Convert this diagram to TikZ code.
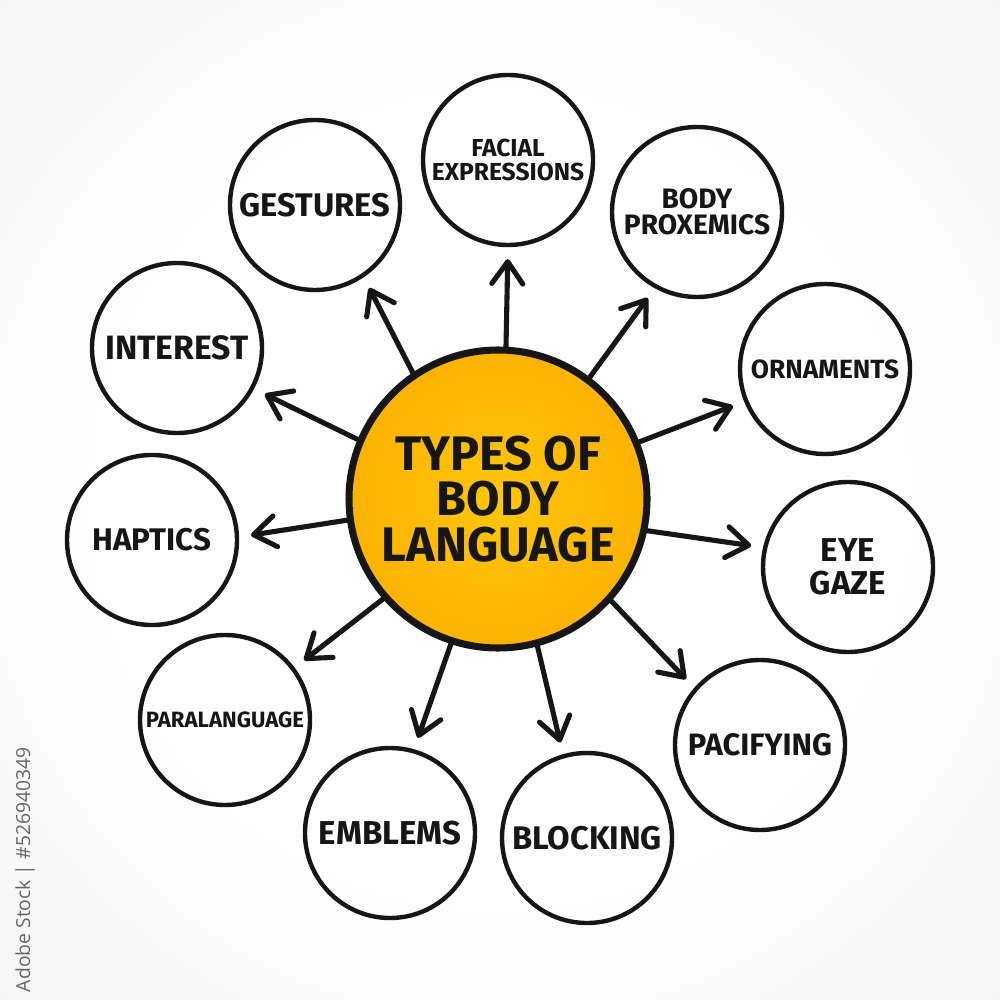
\documentclass[tikz,border=0pt]{standalone}
\usepackage{fontspec}
\setmainfont{Fira Sans}
\newfontfamily\idfont{Open Sans}
\usetikzlibrary{arrows.meta}
\definecolor{ink}{HTML}{161616}
\definecolor{coreIn}{HTML}{FFC60A}
\definecolor{coreMid}{HTML}{FCB000}
\definecolor{coreOut}{HTML}{F39300}
\pgfdeclareradialshading{bgshade}{\pgfpoint{0bp}{0bp}}{color(0bp)=(white); color(18bp)=(white); color(50bp)=(black!7); color(71bp)=(black!12)}
\pgfdeclareradialshading{coreshade}{\pgfpoint{0bp}{0bp}}{color(0bp)=(coreIn); color(28bp)=(coreMid); color(50bp)=(coreOut)}

\begin{document}
\begin{tikzpicture}[
    bubble/.style={circle, draw=ink, line width=1.25pt, minimum size=1.70cm, inner sep=0pt,
      align=center, text=ink, font=\bfseries\fontsize{9.3}{11}\selectfont},
    smalltext/.style={font=\bfseries\fontsize{7}{6.9}\selectfont},
    link/.style={draw=ink, line width=1.45pt, line cap=round, line join=round,
      -{Straight Barb[length=2.2mm,width=3.1mm,round]}, shorten >=0.12cm}
  ]
    \useasboundingbox (0,0) rectangle (10,-10);
    \shade[shading=bgshade] (0,0) rectangle (10,-10);

    \node[circle, draw=ink, line width=2pt, shading=coreshade, minimum size=2.98cm, inner sep=0pt,
      align=center, text=ink, font=\bfseries\fontsize{13.8}{12.9}\selectfont]
      (core) at (4.98,-4.99) {TYPES OF\\BODY\\LANGUAGE};

    \node[bubble] (gest) at (3.15,-2.05) {GESTURES};
    \node[bubble, smalltext] (face) at (5.08,-1.60) {FACIAL\\EXPRESSIONS};
    \node[bubble, font=\bfseries\fontsize{8}{7.4}\selectfont] (prox) at (6.97,-2.12) {BODY\\PROXEMICS};
    \node[bubble, font=\bfseries\fontsize{7.5}{9}\selectfont] (orn) at (8.25,-3.69) {ORNAMENTS};
    \node[bubble, font=\bfseries\fontsize{9.4}{9.4}\selectfont] (gaze) at (8.48,-5.67) {EYE\\GAZE};
    \node[bubble, font=\bfseries\fontsize{8.8}{11}\selectfont] (pac) at (7.60,-7.45) {PACIFYING};
    \node[bubble] (block) at (5.87,-8.38) {BLOCKING};
    \node[bubble, font=\bfseries\fontsize{9.4}{11}\selectfont] (embl) at (3.90,-8.33) {EMBLEMS};
    \node[bubble, font=\bfseries\fontsize{6.3}{8}\selectfont] (para) at (2.25,-7.20) {PARALANGUAGE};
    \node[bubble, font=\bfseries\fontsize{8.9}{11}\selectfont] (hapt) at (1.52,-5.40) {HAPTICS};
    \node[bubble, font=\bfseries\fontsize{9.6}{11}\selectfont] (inter) at (1.77,-3.48) {INTEREST};

    \draw[link] (core.124) -- (gest.-56);
    \draw[link] (core.87) -- (face.-90);
    \draw[link] (core.53) -- (prox.-119);
    \draw[link] (core.22) -- (orn.202);
    \draw[link] (core.-12) -- (gaze.167);
    \draw[link] (core.-42) -- (pac.139);
    \draw[link] (core.-75) -- (block.106);
    \draw[link] (core.252) -- (embl.74);
    \draw[link] (core.221) -- (para.37);
    \draw[link] (core.188) -- (hapt.2);
    \draw[link] (core.157) -- (inter.-28);

    \node[rotate=90, anchor=east, text=black!60, font=\idfont\fontsize{5.5}{7}\selectfont]
      (stockid) at (0.25,-7.35) {Adobe Stock | \#526940349};
\end{tikzpicture}
\end{document}
